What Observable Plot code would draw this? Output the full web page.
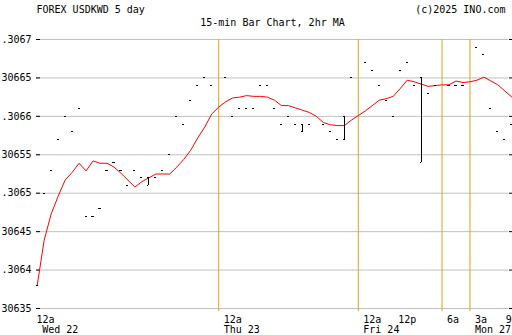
<!DOCTYPE html>
<html>
<head>
<meta charset="utf-8">
<script src="https://cdn.jsdelivr.net/npm/d3@7"></script>
<script src="https://cdn.jsdelivr.net/npm/@observablehq/plot@0.6"></script>
<style>
  html, body { margin: 0; padding: 0; background: #fff; }
  #chart svg { display: block; }
</style>
</head>
<body>
<div id="chart"></div>
<script>
// 15-min bars (index along the compressed time axis), close prices; null = no visible bar
const close = [
  0.30638, 0.30650, 0.30653, 0.30657, 0.30660, 0.30658, 0.30661, 0.30647, 0.30647, 0.30648,
  0.30653, 0.30654, 0.30653, 0.30651, 0.30653, 0.30652, 0.30652, 0.30652, 0.30653, 0.30655,
  0.30660, 0.30659, 0.30662, 0.30664, 0.30665, 0.30664, null,    0.30665, 0.30660, 0.30661,
  0.30661, 0.30661, 0.30664, 0.30664, 0.30661, 0.30659, 0.30660, 0.30659, 0.30658, 0.30659,
  null,    0.30659, 0.30658, 0.30657, 0.30657, 0.30665, null,    0.30667, 0.30666, 0.30664,
  0.30662, 0.30660, 0.30666, 0.30667, 0.30664, 0.30665, 0.30663, 0.30664, null,    0.30664,
  0.30664, 0.30664, null,    0.30669, 0.30668, 0.30661, 0.30658, 0.30657, 0.30659
];
// bars whose open differs from close (drawn with a vertical range)
const wideIdx = [16, 38, 44, 55];
const wideOpen = [0.30651, 0.30659, 0.30660, 0.30654];

// 2hr moving average
const ma = [
  0.306380, 0.306439, 0.306473, 0.306496, 0.306517, 0.306527, 0.306539, 0.306529, 0.306542, 0.306539,
  0.306539, 0.306534, 0.306526, 0.306517, 0.306508, 0.306515, 0.306520, 0.306525, 0.306525, 0.306525,
  0.306534, 0.306544, 0.306556, 0.306572, 0.306586, 0.306603, 0.306612, 0.306619, 0.306624, 0.306625,
  0.306627, 0.306626, 0.306626, 0.306625, 0.306621, 0.306614, 0.306614, 0.306611, 0.306608, 0.306605,
  0.306600, 0.306592, 0.306589, 0.306588, 0.306588, 0.306595, 0.306601, 0.306607, 0.306614, 0.306621,
  0.306623, 0.306626, 0.306636, 0.306647, 0.306645, 0.306642, 0.306639, 0.306640, 0.306641, 0.306641,
  0.306646, 0.306644, 0.306645, 0.306647, 0.306651, 0.306646, 0.306641, 0.306633, 0.306625
];

// day separators (bar index)
const dayIdx = [26, 46, 58, 62];

// axis ticks
const yTicks = [0.3067, 0.30665, 0.3066, 0.30655, 0.3065, 0.30645, 0.3064, 0.30635];
const yLabels = [".3067", ".30665", ".3066", ".30655", ".3065", ".30645", ".3064", ".30635"];
const xTickPos = [0, 26, 46, 51, 58, 62, 66.4];
const xTickTop = ["12a", "12a", "12a", "12p", "6a", "3a", "9a"];
const xTickBottom = ["Wed 22", "Thu 23", "Fri 24", "", "", "Mon 27", ""];

const titleText = "FOREX USDKWD 5 day";
const subtitleText = "15-min Bar Chart, 2hr MA";
const creditText = "(c)2025 INO.com";

// tables built from the arrays
const bars = close.map((c, i) => ({i, c})).filter(d => d.c != null);
const wide = wideIdx.map((i, k) => ({i, o: wideOpen[k], c: close[i],
  lo: Math.min(wideOpen[k], close[i]), hi: Math.max(wideOpen[k], close[i])}));
const maData = ma.map((v, i) => ({i, v}));
const xt = xTickPos.map((x, k) => ({x, top: xTickTop[k], bottom: xTickBottom[k], k}));

const ORANGE = "#e3a01b";
const GRID = "#c0c0c0";

const chart = Plot.plot({
  width: 512,
  height: 335,
  marginLeft: 36,
  marginRight: 4,
  marginTop: 39,
  marginBottom: 27,
  style: {fontFamily: "'DejaVu Sans Mono', monospace", fontSize: "10px", background: "#fff", color: "#000"},
  x: {domain: [-0.1, 67.52], axis: null},
  y: {domain: [0.30635, 0.3067], axis: null},
  marks: [
    Plot.ruleY(yTicks, {stroke: GRID, strokeWidth: 1}),
    Plot.ruleX(dayIdx, {stroke: ORANGE, strokeWidth: 1, insetBottom: -3}),
    Plot.axisY(yTicks, {anchor: "left", tickSize: 4, dx: 4, tickPadding: 5, label: null,
      tickFormat: d => yLabels[yTicks.indexOf(d)]}),
    Plot.axisY(yTicks, {anchor: "right", tickSize: 4, label: null, tickFormat: () => ""}),
    Plot.line(maData, {x: "i", y: "v", stroke: "#ff0000", strokeWidth: 1}),
    Plot.ruleY(bars, {y: "c", x1: d => d.i - 0.15, x2: d => d.i + 0.15, stroke: "#000", shapeRendering: "crispEdges"}),
    Plot.ruleX(wide, {x: "i", y1: "lo", y2: "hi", stroke: "#000", shapeRendering: "crispEdges"}),
    Plot.ruleY(wide, {y: "o", x1: d => d.i - 0.15, x2: "i", stroke: "#000", shapeRendering: "crispEdges"}),
    Plot.text(xt, {filter: d => d.k === 0, x: "x", text: "top", frameAnchor: "bottom", dy: 14, lineAnchor: "bottom", textAnchor: "start", dx: -0.7}),
    Plot.text(xt, {filter: d => d.k > 0, x: "x", text: "top", frameAnchor: "bottom", dy: 14, lineAnchor: "bottom", textAnchor: "start", dx: 5}),
    Plot.text(xt, {x: "x", text: "bottom", frameAnchor: "bottom", dy: 24, lineAnchor: "bottom", textAnchor: "start", dx: 5}),
    Plot.text([titleText], {frameAnchor: "top-left", dy: -27, lineAnchor: "bottom", textAnchor: "start"}),
    Plot.text([creditText], {frameAnchor: "top-right", dx: -3, dy: -27, lineAnchor: "bottom", textAnchor: "end"}),
    Plot.text([subtitleText], {frameAnchor: "top", dy: -14, lineAnchor: "bottom", textAnchor: "middle"})
  ]
});
document.getElementById("chart").appendChild(chart);
</script>
</body>
</html>
